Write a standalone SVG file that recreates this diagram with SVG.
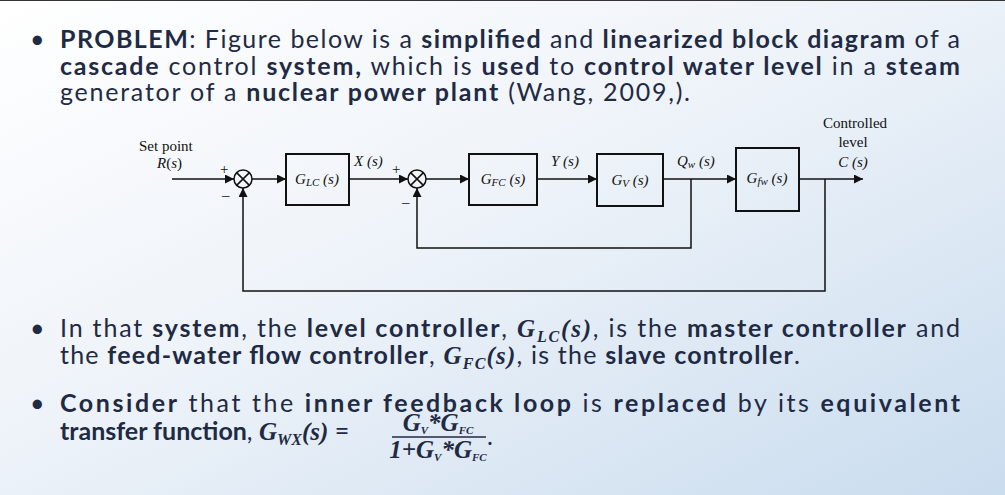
<svg xmlns="http://www.w3.org/2000/svg" width="1005" height="495" viewBox="0 0 1005 495">
<defs>
<linearGradient id="bg" x1="0" y1="0" x2="1" y2="1">
<stop offset="0" stop-color="#ffffff"/><stop offset="0.45" stop-color="#eef3f9"/><stop offset="1" stop-color="#c9dcee"/>
</linearGradient>
<marker id="ar" viewBox="0 0 10 10" refX="10" refY="5" markerWidth="9" markerHeight="9" markerUnits="userSpaceOnUse" orient="auto"><path d="M0,0L10,5L0,10z" fill="#111"/></marker>
<style>
.t{font-family:Lato,"Open Sans",sans-serif;font-size:25px;fill:#1f2a44}
.b{font-weight:bold}
.m{font-family:"Liberation Serif",serif;font-style:italic;font-weight:bold}
.d{font-family:"Liberation Serif",serif;font-size:15px;fill:#111}
.i{font-style:italic}
.blk{fill:none;stroke:#111;stroke-width:2}
.ln{fill:none;stroke:#111;stroke-width:1.5}
</style>
</defs>
<rect width="1005" height="495" fill="url(#bg)"/>
<line x1="0" y1="0.5" x2="1005" y2="0.5" stroke="#333" stroke-width="1"/>
<g id="text">
<text class="t" x="30" y="48">•</text>
<text class="t" x="60" y="48" textLength="900" lengthAdjust="spacing"><tspan class="b">PROBLEM</tspan>: Figure below is a <tspan class="b">simplified</tspan> and <tspan class="b">linearized block diagram</tspan> of a</text>
<text class="t" x="60" y="75" textLength="900" lengthAdjust="spacing"><tspan class="b">cascade</tspan> control <tspan class="b">system,</tspan> which is <tspan class="b">used</tspan> to <tspan class="b">control water level</tspan> in a <tspan class="b">steam</tspan></text>
<text class="t" x="60" y="101" textLength="630" lengthAdjust="spacing">generator of a <tspan class="b">nuclear power plant</tspan> (Wang, 2009,).</text>
<text class="t" x="30" y="337">•</text>
<text class="t" x="60" y="337" textLength="900" lengthAdjust="spacing">In that <tspan class="b">system</tspan>, the <tspan class="b">level controller</tspan>, <tspan class="m">G<tspan font-size="16" dy="5">LC</tspan><tspan dy="-5">(s)</tspan></tspan>, is the <tspan class="b">master controller</tspan> and</text>
<text class="t" x="60" y="364" textLength="740" lengthAdjust="spacing">the <tspan class="b">feed-water flow controller</tspan>, <tspan class="m">G<tspan font-size="16" dy="5">FC</tspan><tspan dy="-5">(s)</tspan></tspan>, is the <tspan class="b">slave controller</tspan>.</text>
<text class="t" x="30" y="412">•</text>
<text class="t" x="60" y="412" textLength="900" lengthAdjust="spacing"><tspan class="b">Consider</tspan> that the <tspan class="b">inner feedback loop</tspan> is <tspan class="b">replaced</tspan> by its <tspan class="b">equivalent</tspan></text>
<text class="t" x="60" y="440"><tspan class="b">transfer function</tspan>, <tspan class="m">G<tspan font-size="16" dy="5">WX</tspan><tspan dy="-5">(s)</tspan></tspan> =</text>
<text class="t m" x="438" y="431" font-size="16" text-anchor="middle">G<tspan font-size="11" dy="3">V</tspan><tspan dy="-3">*G</tspan><tspan font-size="11" dy="3">FC</tspan></text>
<line x1="392" y1="437" x2="486" y2="437" stroke="#1f2a44" stroke-width="1.3"/>
<text class="t m" x="438" y="458" font-size="16" text-anchor="middle">1+G<tspan font-size="11" dy="3">V</tspan><tspan dy="-3">*G</tspan><tspan font-size="11" dy="3">FC</tspan></text>
<text class="t" x="487" y="445">.</text>
</g>
<g id="connectors">
<line class="ln" x1="172" y1="179" x2="234" y2="179" marker-end="url(#ar)"/>
<line class="ln" x1="252" y1="179" x2="286" y2="179" marker-end="url(#ar)"/>
<line class="ln" x1="349" y1="179" x2="408" y2="179" marker-end="url(#ar)"/>
<line class="ln" x1="426" y1="179" x2="469" y2="179" marker-end="url(#ar)"/>
<line class="ln" x1="537" y1="179" x2="597" y2="179" marker-end="url(#ar)"/>
<line class="ln" x1="663" y1="179" x2="736" y2="179" marker-end="url(#ar)"/>
<line class="ln" x1="799" y1="179" x2="863" y2="179" marker-end="url(#ar)"/>
<polyline class="ln" points="691,179 691,248 417,248 417,188" marker-end="url(#ar)"/>
<polyline class="ln" points="825,179 825,291 243,291 243,188" marker-end="url(#ar)"/>
</g>
<g id="sum1"><circle class="ln" cx="243" cy="179" r="9" stroke-width="2"/><path class="ln" d="M236.6,172.6L249.4,185.4M249.4,172.6L236.6,185.4" stroke-width="2"/></g>
<g id="sum2"><circle class="ln" cx="417" cy="179" r="9" stroke-width="2"/><path class="ln" d="M410.6,172.6L423.4,185.4M423.4,172.6L410.6,185.4" stroke-width="2"/></g>
<g id="glc"><rect class="blk" x="286" y="154" width="63" height="51"/><text class="d i" x="317" y="184" text-anchor="middle">G<tspan font-size="11" dy="2">LC</tspan><tspan dy="-2"> (s)</tspan></text></g>
<g id="gfc"><rect class="blk" x="469" y="154" width="68" height="51"/><text class="d i" x="503" y="184" text-anchor="middle">G<tspan font-size="11" dy="2">FC</tspan><tspan dy="-2"> (s)</tspan></text></g>
<g id="gv"><rect class="blk" x="597" y="154" width="66" height="52"/><text class="d i" x="630" y="185" text-anchor="middle">G<tspan font-size="11" dy="2">V</tspan><tspan dy="-2"> (s)</tspan></text></g>
<g id="gfw"><rect class="blk" x="736" y="148" width="63" height="63"/><text class="d i" x="767" y="183" text-anchor="middle">G<tspan font-size="11" dy="2">fw</tspan><tspan dy="-2"> (s)</tspan></text></g>
<g id="labels">
<text class="d" x="139" y="151">Set point</text>
<text class="d" x="157" y="168"><tspan class="i">R</tspan>(<tspan class="i">s</tspan>)</text>
<text class="d" x="220" y="174" font-size="12">+</text>
<text class="d" x="222" y="200" font-size="12">–</text>
<text class="d i" x="354" y="166">X (s)</text>
<text class="d" x="392" y="174" font-size="12">+</text>
<text class="d" x="402" y="207" font-size="12">–</text>
<text class="d i" x="551" y="166">Y (s)</text>
<text class="d i" x="677" y="166">Q<tspan font-size="11" dy="2">w</tspan><tspan dy="-2"> (s)</tspan></text>
<text class="d" x="855" y="128" text-anchor="middle">Controlled</text>
<text class="d" x="853" y="147" text-anchor="middle">level</text>
<text class="d i" x="853" y="167" text-anchor="middle">C (s)</text>
</g>
</svg>
